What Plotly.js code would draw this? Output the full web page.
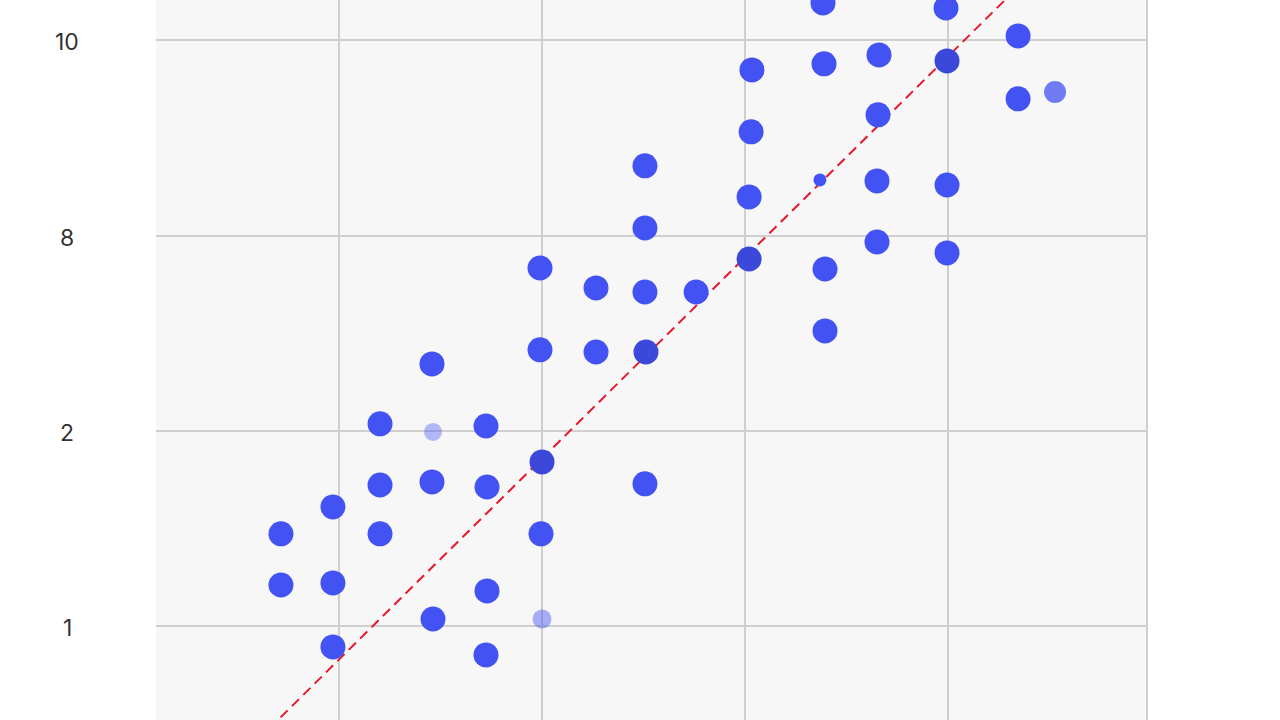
<!DOCTYPE html>
<html>
<head>
<meta charset="utf-8">
<script src="https://cdn.plot.ly/plotly-3.0.1.min.js"></script>
<style>html,body{margin:0;padding:0;background:#fff;}#chart{width:1280px;height:720px;}</style>
</head>
<body>
<div id="chart"></div>
<script>
// Data (x in grid units, y in axis-position units)
var xValues = [0.714,0.714,0.970,0.970,0.970,1.202,1.202,1.202,1.458,1.463,1.458,1.463,1.724,1.729,1.729,1.724,1.990,1.990,2.000,1.995,2.000,2.266,2.266,2.507,2.507,2.507,2.512,2.507,2.759,3.034,3.030,3.020,3.020,3.384,3.389,3.369,3.394,3.394,3.660,3.655,3.650,3.650,3.990,3.995,3.995,3.995,4.345,4.345,4.527];
var yValues = [0.474,0.212,0.612,0.223,-0.105,1.037,0.724,0.474,1.344,0.996,0.740,0.038,1.026,0.714,0.182,-0.146,1.835,1.416,0.842,0.474,0.038,1.733,1.405,2.358,2.040,1.712,1.405,0.730,1.712,2.849,2.532,2.199,1.881,3.192,2.880,2.286,1.830,1.513,2.926,2.619,2.281,1.968,3.166,2.895,2.260,1.912,3.023,2.701,2.736];
var trendX = [0.6, 4.4];
var trendY = [-0.581, 3.330];
var yTickVals = [0, 1, 2, 3];
var yTickText = ['1', '2', '8', '10'];
var xTickVals = [1, 2, 3, 4];

// Styles
var base = '#4352f2', dark = '#3c48da';
var markerColors = [], markerSizes = [], markerOpac = [];
for (var i = 0; i < xValues.length; i++) { markerColors.push(base); markerSizes.push(25); markerOpac.push(1); }
[18, 26, 32, 43].forEach(function (k) { markerColors[k] = dark; });
markerSizes[35] = 13;
markerSizes[9] = 18; markerOpac[9] = 0.38;
markerSizes[20] = 19; markerOpac[20] = 0.45;
markerSizes[48] = 22; markerOpac[48] = 0.75;

var traces = [
  { x: trendX, y: trendY, type: 'scatter', mode: 'lines',
    line: { color: '#e8162a', width: 2, dash: '10px,6px' }, hoverinfo: 'skip' },
  { x: xValues, y: yValues, type: 'scatter', mode: 'markers',
    marker: { color: markerColors, size: markerSizes, opacity: markerOpac, line: { width: 0 } } }
];

var tickAnnotations = yTickVals.map(function (v, i) {
  return { xref: 'paper', yref: 'y', x: -0.0898, y: v, text: yTickText[i], showarrow: false,
    xanchor: 'center', yanchor: 'middle', yshift: -2,
    font: { family: 'Inter, Roboto, sans-serif', size: 23, color: '#333333' } };
});

var layout = {
  width: 1280, height: 720,
  margin: { l: 156, r: 133, t: 0, b: 0, pad: 0 },
  paper_bgcolor: '#ffffff', plot_bgcolor: '#f7f7f7',
  showlegend: false,
  font: { family: 'Inter, Roboto, sans-serif', size: 22, color: '#333333' },
  xaxis: { range: [0.0985, 4.980], tickvals: xTickVals, showticklabels: false,
    showgrid: true, gridcolor: '#cfcfcf', gridwidth: 2, zeroline: false, showline: false, ticks: '' },
  yaxis: { range: [-0.479, 3.207], tickvals: yTickVals, showticklabels: false,
    showgrid: true, gridcolor: '#cfcfcf', gridwidth: 2, zeroline: false, showline: false, ticks: '' },
  annotations: tickAnnotations,
  shapes: [
    { type: 'line', xref: 'paper', yref: 'paper', x0: 1, x1: 1, y0: 0, y1: 1,
      line: { color: '#cfcfcf', width: 2 }, layer: 'below' }
  ]
};

Plotly.newPlot('chart', traces, layout, { displayModeBar: false, staticPlot: true });
</script>
</body>
</html>
